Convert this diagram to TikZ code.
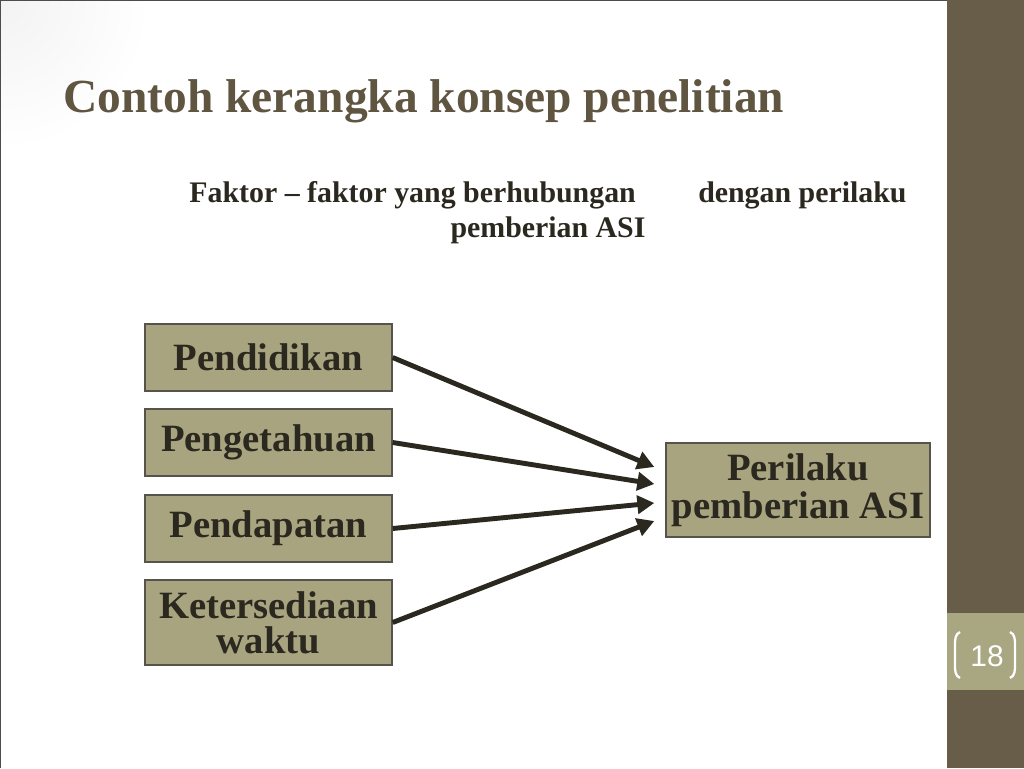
\documentclass[tikz,border=0pt]{standalone}
\usepackage{fontspec}
\setmainfont{Liberation Serif}
\setsansfont{Liberation Sans}
\usetikzlibrary{arrows.meta,calc,positioning}
\definecolor{sidebar}{HTML}{675D48}
\definecolor{pagebox}{HTML}{A9A682}
\definecolor{boxfill}{HTML}{A8A47F}
\definecolor{titlecol}{HTML}{5F5541}
\definecolor{inkdark}{HTML}{2B281F}
\tikzset{
  >={Triangle[length=0.34cm,width=0.36cm]}, % big solid heads
  factor/.style={draw=inkdark!80, line width=0.8pt, fill=boxfill, text=inkdark,
    font=\bfseries\fontsize{22}{20}\selectfont, align=center, inner sep=0pt,
    minimum width=4.94cm, minimum height=1.34cm},
  link/.style={->, draw=inkdark, line width=2.8pt},
  bracket/.style={white, line width=1.3pt},
}

\begin{document}
\begin{tikzpicture}[x=0.02cm,y=-0.02cm]
  % slide
  \useasboundingbox (0,0) rectangle (1024,768);
  \fill[white] (0,0) rectangle (1024,768);
  \begin{scope}
    \clip (0,0) rectangle (947,768);
    \shade[inner color=black!5, outer color=white] (0,0) circle (150);
  \end{scope}
  \draw[black!70, line width=0.6pt] (0.5,768) -- (0.5,0.5) -- (947,0.5);

  % sidebar
  \fill[sidebar] (947,0) rectangle (1024,768);
  \fill[pagebox] (947,613) rectangle (1024,690);
  \node[text=white, font=\sffamily\fontsize{17}{20}\selectfont] at (987,656) (pagenum){18};
  \draw[bracket] (960,632) .. controls (955,634) and (955,640) .. (955,645)
    -- (955,665) .. controls (955,670) and (955,676) .. (960,678);
  \draw[bracket] (1010,632) .. controls (1015,634) and (1015,640) .. (1015,645)
    -- (1015,665) .. controls (1015,670) and (1015,676) .. (1010,678);

  % title
  \node[anchor=base west, inner sep=0pt, text=titlecol,
    font=\bfseries\fontsize{27}{32}\selectfont] at (63,112) (title){Contoh kerangka konsep penelitian};
  \node[anchor=base, inner sep=0pt, align=center, text=inkdark,
    font=\bfseries\fontsize{17}{19.4}\selectfont] at (548,237) (subtitle)
    {Faktor -- faktor yang berhubungan\hspace{1.1cm} dengan perilaku\\pemberian ASI};

  % factors
  \node[factor] at (268.5,357.5) (pendidikan){Pendidikan};
  \node[factor] at (268.5,442.5) (pengetahuan){Pengetahuan};
  \node[factor] at (268.5,528.5) (pendapatan){Pendapatan};
  \node[factor, minimum height=1.7cm] at (268.5,622.5) (waktu){Ketersediaan\\waktu};

  % outcome
  \node[factor, minimum width=5.28cm, minimum height=1.88cm,
    font=\bfseries\fontsize{22}{21.6}\selectfont] at (798,490) (perilaku){Perilaku\\pemberian ASI};

  \foreach \src/\dy in {pendidikan/-23, pengetahuan/-6, pendapatan/13, waktu/31}
    \draw[link] (\src.east) -- ($(perilaku.west)+(-11,\dy)$);
\end{tikzpicture}
\end{document}
